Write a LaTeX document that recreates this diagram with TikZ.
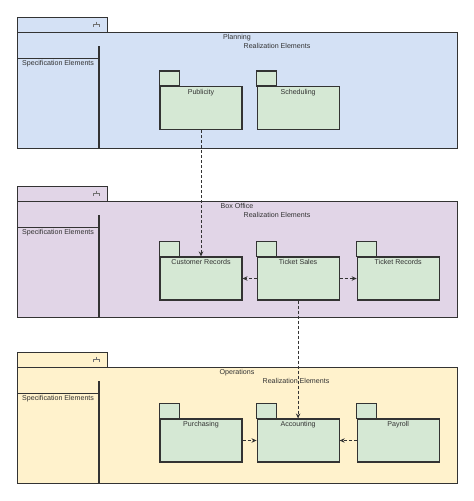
\documentclass[tikz,border=0pt]{standalone}
\usepackage{fontspec}
\setmainfont{Liberation Sans}
\usepackage{tikz}
\usetikzlibrary{positioning, calc, arrows.meta}
\definecolor{planblue}{RGB}{212,225,245}
\definecolor{boxpurple}{RGB}{225,213,231}
\definecolor{opsyellow}{RGB}{255,242,204}
\definecolor{pkggreen}{RGB}{213,232,212}
\definecolor{edge}{RGB}{51,51,51}

\begin{document}
\begin{tikzpicture}[x=1pt, y=-1pt,
  every node/.style={font=\fontsize{7.1}{8.5}\selectfont, text=edge},
  frame/.style={draw=edge, line width=0.9pt, minimum width=440pt, minimum height=116pt, inner sep=0pt},
  divider/.style={draw=edge, line width=1.3pt},
  pkg/.style={draw=edge, line width=1.1pt, fill=pkggreen, minimum width=82pt, minimum height=43pt, inner sep=0pt},
  pkgtab/.style={draw=edge, line width=1.1pt, fill=pkggreen},
  pkglabel/.style={anchor=north, inner sep=3pt},
  dep/.style={draw=edge, line width=1pt, dash pattern=on 3pt off 2pt, -{Stealth[length=5pt, width=4.5pt]}}]
  \useasboundingbox[fill=white] (0,0) rectangle (474,501);

  % containers
  \foreach \f/\yc/\col/\title/\rx in {planning/90/planblue/Planning/277,
      boxoffice/259/boxpurple/Box Office/277,
      operations/425/opsyellow/Operations/296} {
    \draw[draw=edge, line width=0.9pt, fill=\col] (17,\yc-58) rectangle ++(90,-15);
    \node[frame, fill=\col] (\f) at (237,\yc) {};
    \draw[edge!70, line width=0.6pt] ($(\f.north west)+(80,-10)$) -- ++(0,3)
      ($(\f.north west)+(77,-4.5)$) -- ++(0,-2.5) -- ++(6,0) -- ++(0,2.5);
    \node[anchor=north, inner sep=2.5pt] (\f-title) at (\f.north) {\title};
    \node (\f-real) at (\rx,\yc-44) {Realization Elements};
    \draw[divider] (99,\yc-44) -- (99,\yc+58);
    \draw[divider, line width=0.9pt] (17,\yc-32) -- (99,\yc-32);
    \node[anchor=west, inner sep=0pt] (\f-spec) at (22,\yc-26.5) {Specification Elements};
  }

  % packages
  \node[pkg, label={[pkglabel]north:Publicity}] (publicity) at (201,108) {};
  \node[pkg, label={[pkglabel]north:Scheduling}, right=14pt of publicity] (scheduling) {};

  \node[pkg, label={[pkglabel]north:Customer Records}] (custrecords) at (201,278.5) {};
  \node[pkg, label={[pkglabel]north:Ticket Sales}, right=14pt of custrecords] (ticketsales) {};
  \node[pkg, label={[pkglabel]north:Ticket Records}, right=17pt of ticketsales] (ticketrecords) {};

  \node[pkg, label={[pkglabel]north:Purchasing}] (purchasing) at (201,440.5) {};
  \node[pkg, label={[pkglabel]north:Accounting}, right=14pt of purchasing] (accounting) {};
  \node[pkg, label={[pkglabel]north:Payroll}, right=17pt of accounting] (payroll) {};

  \foreach \p in {publicity, scheduling, custrecords, ticketsales, ticketrecords,
      purchasing, accounting, payroll}
    \draw[pkgtab] (\p.north west) rectangle ++(20,-15);

  % dependencies
  \draw[dep] (publicity) -- (custrecords);
  \draw[dep] (ticketsales) -- (custrecords);
  \draw[dep] (ticketsales) -- (ticketrecords);
  \draw[dep] (ticketsales) -- (accounting);
  \draw[dep] (purchasing) -- (accounting);
  \draw[dep] (payroll) -- (accounting);
\end{tikzpicture}
\end{document}
